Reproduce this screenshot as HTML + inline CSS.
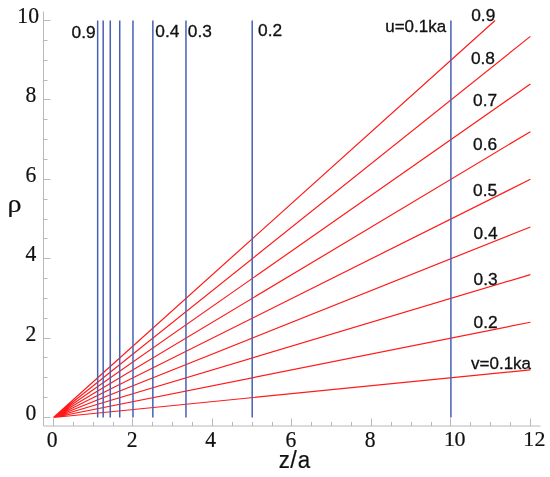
<!DOCTYPE html>
<html><head><meta charset="utf-8"><title>plot</title>
<style>html,body{margin:0;padding:0;background:#fff;}svg{display:block;}</style>
</head><body>
<svg width="550" height="477" viewBox="0 0 550 477">
<rect width="550" height="477" fill="#fff"/>
<path d="M43.5 11.5V426H540.5" fill="none" stroke="#b8b8b8" stroke-width="1"/>
<path d="M53.5 426v-7.5M73.5 426v-4M93.5 426v-4M113.5 426v-4M132.5 426v-7.5M152.5 426v-4M172.5 426v-4M192.5 426v-4M212.5 426v-7.5M232.5 426v-4M252.5 426v-4M272.5 426v-4M291.5 426v-7.5M311.5 426v-4M331.5 426v-4M351.5 426v-4M371.5 426v-7.5M391.5 426v-4M411.5 426v-4M431.5 426v-4M450.5 426v-7.5M470.5 426v-4M490.5 426v-4M510.5 426v-4M530.5 426v-7.5M43.5 417.5h7M43.5 397.5h4M43.5 377.5h4M43.5 357.5h4M43.5 338.5h7M43.5 318.5h4M43.5 298.5h4M43.5 278.5h4M43.5 258.5h7M43.5 238.5h4M43.5 219.5h4M43.5 199.5h4M43.5 179.5h7M43.5 159.5h4M43.5 139.5h4M43.5 119.5h4M43.5 99.5h7M43.5 80.5h4M43.5 60.5h4M43.5 40.5h4M43.5 20.5h7" fill="none" stroke="#b8b8b8" stroke-width="1"/>
<path d="M53.5 417.5L530.38 369.86M53.5 417.5L530.38 322.22M53.5 417.5L530.38 274.58M53.5 417.5L530.38 226.94M53.5 417.5L530.38 179.3M53.5 417.5L530.38 131.66M53.5 417.5L530.38 84.02M53.5 417.5L530.38 36.38M53.5 417.5L495.06 20.5" fill="none" stroke="#ff1a1a" stroke-width="1.2"/>
<path d="M450.9 417.5V20.5M252.2 417.5V20.5M185.97 417.5V20.5M152.85 417.5V20.5M132.98 417.5V20.5M119.73 417.5V20.5M110.27 417.5V20.5M103.18 417.5V20.5M97.66 417.5V20.5" fill="none" stroke="#4860b4" stroke-width="1.5"/>
<g font-family="&quot;Liberation Serif&quot;, &quot;Times New Roman&quot;, serif" font-size="22.8" fill="#111" stroke="#111" stroke-width="0.2"><text transform="translate(30.8 102.2) scale(0.95 1)" text-anchor="middle">8</text><text transform="translate(30.85 182.2) scale(0.95 1)" text-anchor="middle">6</text><text transform="translate(30.8 261.2) scale(0.95 1)" text-anchor="middle">4</text><text transform="translate(30.85 341.2) scale(0.95 1)" text-anchor="middle">2</text><text transform="translate(30.8 420.2) scale(0.95 1)" text-anchor="middle">0</text><text transform="translate(52.15 446.75) scale(0.95 1)" text-anchor="middle">0</text><text transform="translate(132.1 446.75) scale(0.95 1)" text-anchor="middle">2</text><text transform="translate(210.75 446.75) scale(0.95 1)" text-anchor="middle">4</text><text transform="translate(290.9 446.75) scale(0.95 1)" text-anchor="middle">6</text><text transform="translate(370.15 446.75) scale(0.95 1)" text-anchor="middle">8</text><text transform="translate(17.2 22.8) scale(0.95 1)" font-size="22.8">1<tspan dx="0.37">0</tspan></text><text transform="translate(443.9 445.55) scale(1.0 1)" font-size="22">1<tspan dx="-0.35">0</tspan></text><text transform="translate(523.25 445.55) scale(1.0 1)" font-size="22">1<tspan dx="0.17">2</tspan></text></g>
<g font-family="&quot;Liberation Sans&quot;, Arial, Helvetica, sans-serif" font-size="16.5" fill="#111" stroke="#111" stroke-width="0.3"><text transform="translate(71.5 37.5) scale(1.05 1)">0.9</text><text transform="translate(155.3 37) scale(1.05 1)">0.4</text><text transform="translate(187.8 37) scale(1.05 1)">0.3</text><text transform="translate(258 36) scale(1.05 1)">0.2</text><text transform="translate(385.2 32.3) scale(1.03 1)">u=0.1ka</text><text transform="translate(471.2 20.7) scale(1.05 1)">0.9</text><text transform="translate(470.9 64.1) scale(1.05 1)">0.8</text><text transform="translate(473 106.4) scale(1.05 1)">0.7</text><text transform="translate(473.1 150) scale(1.05 1)">0.6</text><text transform="translate(473.1 196.4) scale(1.05 1)">0.5</text><text transform="translate(473.6 239.4) scale(1.05 1)">0.4</text><text transform="translate(473.6 284.9) scale(1.05 1)">0.3</text><text transform="translate(473.6 327.7) scale(1.05 1)">0.2</text><text transform="translate(471.1 368.6) scale(1.03 1)">v=0.1ka</text></g>
<text transform="translate(278.8 467.7) scale(0.95 1)" font-family="&quot;Liberation Sans&quot;, Arial, Helvetica, sans-serif" font-size="23.5" fill="#111" stroke="#111" stroke-width="0.2">z<tspan font-size="24.8" dx="0.4">/</tspan><tspan dx="1">a</tspan></text>
<text transform="translate(7.5 211.8) scale(1.08 1)" font-family="&quot;Liberation Serif&quot;, serif" font-size="26" fill="#111" stroke="#111" stroke-width="0.2">ρ</text>
</svg>
</body></html>
